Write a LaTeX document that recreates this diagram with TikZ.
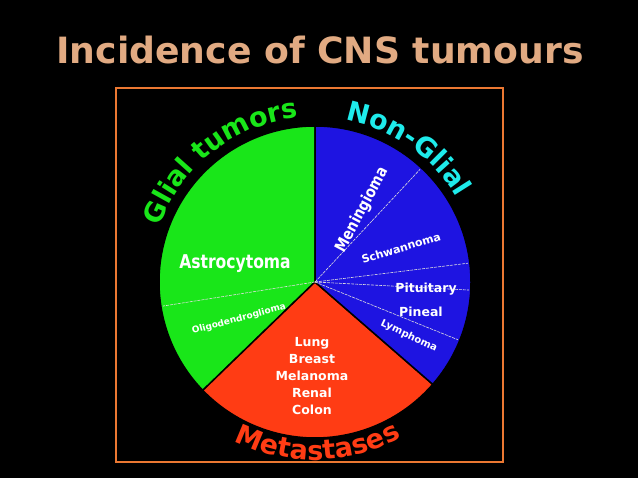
\documentclass[tikz,border=0pt]{standalone}
\usepackage{fontspec}
\setmainfont{DejaVu Sans}
\usepackage{graphicx}
\usetikzlibrary{decorations.text}
\definecolor{gl}{RGB}{25,230,25}
\definecolor{bl}{RGB}{30,20,225}
\definecolor{rd}{RGB}{255,60,20}
\definecolor{cy}{RGB}{30,235,235}
\definecolor{tt}{RGB}{225,170,130}
\definecolor{fr}{RGB}{235,120,50}
\tikzset{wedge/.style={draw=black,line width=1.5pt},
 div/.style={draw=white!75!gray,line width=0.6pt,dashed,dash pattern=on 3pt off 1pt},
 lab/.style={text=white,font=\bfseries\fontsize{#1}{#1}\selectfont,inner sep=0pt},
 lab/.default=11}
\begin{document}
\begin{tikzpicture}[x=1pt,y=1pt]
\fill[black] (0,0) rectangle (638,478);
\useasboundingbox (0,0) rectangle (638,478);
\node[text=tt] (title) at (320,428) {\resizebox{527pt}{!}{\bfseries Incidence of CNS tumours}};
\draw[fr,line width=1.2pt] (116,16) rectangle (503,390);
\coordinate (C) at (315,196);
\fill[gl,wedge] (C) -- ++(90:156) arc[start angle=90,end angle=224,radius=156] -- cycle;
\fill[rd,wedge] (C) -- ++(224:156) arc[start angle=224,end angle=319,radius=156] -- cycle;
\fill[bl,wedge] (C) -- ++(319:156) arc[start angle=319,end angle=450,radius=156] -- cycle;
\foreach \a in {189,47,7,-3,-22} \draw[div] (C) -- ++(\a:154);
\path[decorate,decoration={text along path,text color=gl,text align=center,
  text={|\bfseries\fontsize{27}{27}\selectfont|Glial tumors}}]
  (C) ++(164:165) arc[start angle=164,end angle=92,radius=165];
\path[decorate,decoration={text along path,text color=cy,text align=center,
  text={|\bfseries\fontsize{27}{27}\selectfont|Non-Glial}}]
  (C) ++(86:165) arc[start angle=86,end angle=24,radius=165];
\path[decorate,decoration={text along path,text color=rd,text align=center,
  text={|\bfseries\fontsize{27}{27}\selectfont|Metastases}}]
  (C) ++(231:178) arc[start angle=231,end angle=311,radius=178];
\node[lab=19,xscale=0.82] (astro) at (235,214) {Astrocytoma};
\node[lab=9,rotate=15] (oligo) at (239,159) {Oligodendroglioma};
\node[lab=16,rotate=62,xscale=0.85] (menin) at (362,268) {Meningioma};
\node[lab=11,rotate=17] (schw) at (401,230) {Schwannoma};
\node[lab=12.5] (pit) at (426,189) {Pituitary};
\node[lab=12.5] (pin) at (421,166) {Pineal};
\node[lab=10,rotate=-25] (lymph) at (409,142) {Lymphoma};
\node[lab=12.5,align=center,font=\bfseries\fontsize{12.5}{16.8}\selectfont] (meta) at (312,102) {Lung\\Breast\\Melanoma\\Renal\\Colon};
\end{tikzpicture}
\end{document}
